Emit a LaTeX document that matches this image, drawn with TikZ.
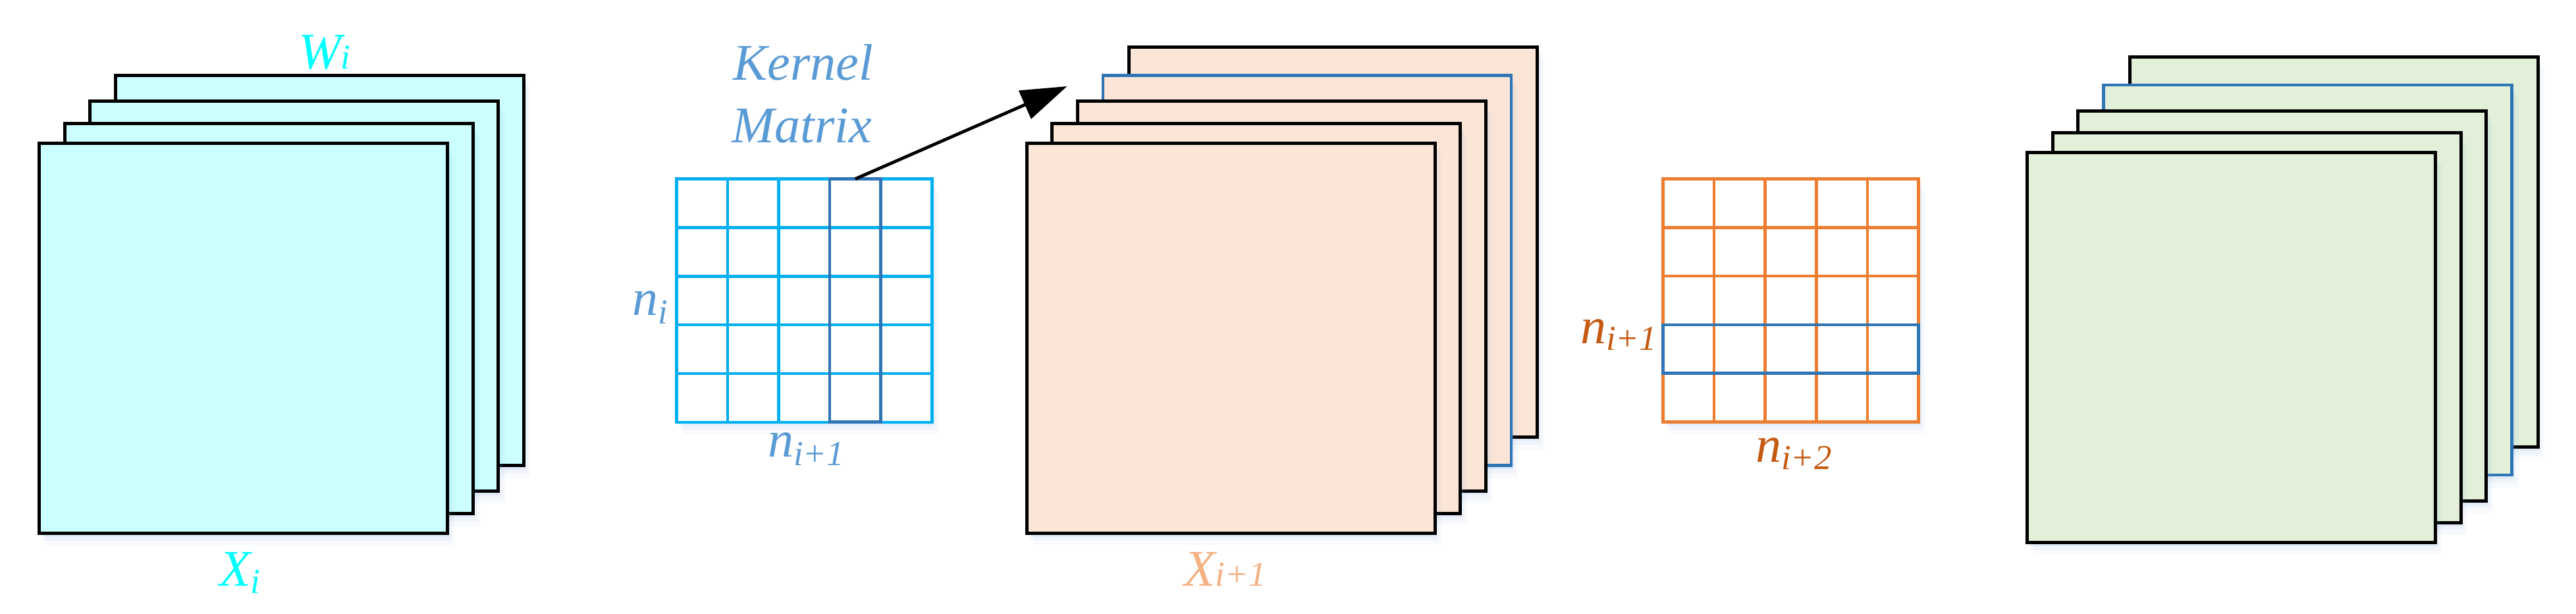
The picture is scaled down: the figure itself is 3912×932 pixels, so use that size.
\documentclass[tikz,border=0pt]{standalone}
\usepackage{fontspec}
\setmainfont{Liberation Serif}
\usetikzlibrary{arrows.meta,shadows,calc}
\definecolor{labcyan}{HTML}{00FFFF}
\definecolor{kblue}{HTML}{5B9BD5}
\definecolor{lorange}{HTML}{F4B183}
\definecolor{dorange}{HTML}{C55A11}
\definecolor{gcyan}{HTML}{00B0F0}
\definecolor{hblue}{HTML}{2E75B6}
\definecolor{gorange}{HTML}{ED7D31}
\definecolor{fcyan}{HTML}{CCFFFF}
\definecolor{fpeach}{HTML}{FBE5D6}
\definecolor{fgreen}{HTML}{E2F0D9}
\definecolor{shc}{HTML}{6F9FD8}
\newcommand{\lsub}[2][3pt]{\raisebox{-#1}{\fontsize{13.25pt}{13.25pt}\selectfont #2}}
\begin{document}
\begin{tikzpicture}[x=0.25pt,y=-0.25pt,
  softshadow/.style={
    drop shadow={shadow xshift=0.8pt,shadow yshift=-1.4pt,fill=shc,opacity=0.10},
    drop shadow={shadow xshift=1.6pt,shadow yshift=-2.8pt,fill=shc,opacity=0.07},
    drop shadow={shadow xshift=2.6pt,shadow yshift=-4.6pt,fill=shc,opacity=0.05}},
  sheet/.style={softshadow, draw=black, line width=1.25pt, minimum width=155pt,
    minimum height=148pt, anchor=north west, inner sep=0pt, outer sep=0pt},
  bsheet/.style={sheet, draw=hblue, line width=1.1pt},
  lab/.style={font=\fontsize{19.5pt}{23.5pt}\selectfont\itshape, inner sep=0pt, outer sep=0pt},
  gridbox/.style={softshadow, fill=white, draw=#1, line width=1.15pt, anchor=north west,
    inner sep=0pt, outer sep=0pt, minimum width=97pt, minimum height=92.3pt},
  gline/.style={draw=#1, line width=1.15pt},
  hilite/.style={draw=hblue, line width=1.2pt, anchor=north west, inner sep=0pt, outer sep=0pt}
]
\useasboundingbox (0,0) rectangle (3912,932);

% ---- left stack (input X_i)
\node[sheet, fill=fcyan] (L4) at (175.6,114.9) {};
\node[sheet, fill=fcyan] (L3) at (136.6,153.9) {};
\node[sheet, fill=fcyan] (L2) at (98.1,187.4) {};
\node[sheet, fill=fcyan] (L1) at (59.6,217.4) {};
\node[lab, text=labcyan, anchor=base west] (Wi) at (453,104) {W\lsub[0pt]{i}};
\node[lab, text=labcyan, anchor=base west] (Xi) at (333,889) {X\lsub[2.75pt]{i}};

% ---- kernel matrix
\node[gridbox=gcyan] (kg) at (1027.2,271.6) {};
\foreach \i in {1,...,4}{
  \draw[gline=gcyan] ($(kg.north west)!{\i/5}!(kg.north east)$) -- ($(kg.south west)!{\i/5}!(kg.south east)$);
  \draw[gline=gcyan] ($(kg.north west)!{\i/5}!(kg.south west)$) -- ($(kg.north east)!{\i/5}!(kg.south east)$);
}
\node[hilite, minimum width=19.4pt, minimum height=92.3pt] (kcol) at ($(kg.north west)!0.6!(kg.north east)$) {};
\node[lab, text=kblue, anchor=base] (k1) at (1220,122) {Kernel};
\node[lab, text=kblue, anchor=base] (k2) at (1218,216) {Matrix};
\node[lab, text=kblue, anchor=base west] (ni) at (960,478.3) {n\lsub[3.3pt]{i}};
\node[lab, text=kblue, anchor=base west] (nia) at (1166,693) {n\lsub[3.25pt]{i+1}};

% ---- middle stack (X_{i+1})
\node[sheet, fill=fpeach] (M5) at (1714.5,71.7) {};
\node[bsheet, fill=fpeach] (M4) at (1675,114.5) {};
\node[sheet, fill=fpeach] (M3) at (1636,153.5) {};
\node[sheet, fill=fpeach] (M2) at (1597.5,187) {};
\node[sheet, fill=fpeach] (M1) at (1559,217) {};
\node[lab, text=lorange, anchor=base west] (Xia) at (1798,889) {X\lsub[0pt]{i+1}};

% ---- arrow
\coordinate (atip) at (1620.5,131);
\draw[-{Triangle[length=17.5pt,width=11.5pt]}, line width=1.2pt] (kcol.north) -- (atip);

% ---- right matrix
\node[gridbox=gorange] (rg) at (2525.5,271.5) {};
\foreach \i in {1,...,4}{
  \draw[gline=gorange] ($(rg.north west)!{\i/5}!(rg.north east)$) -- ($(rg.south west)!{\i/5}!(rg.south east)$);
  \draw[gline=gorange] ($(rg.north west)!{\i/5}!(rg.south west)$) -- ($(rg.north east)!{\i/5}!(rg.south east)$);
}
\node[hilite, minimum width=97pt, minimum height=18.46pt] (rrow) at ($(rg.north west)!0.6!(rg.south west)$) {};
\node[lab, text=dorange, anchor=base west] (rna) at (2400,521.7) {n\lsub[2.5pt]{i+1}};
\node[lab, text=dorange, anchor=base west] (rnb) at (2666,701) {n\lsub[2.9pt]{i+2}};

% ---- right stack
\node[sheet, fill=fgreen] (R5) at (3234,86.3) {};
\node[bsheet, fill=fgreen] (R4) at (3194.5,129.1) {};
\node[sheet, fill=fgreen] (R3) at (3155.5,168.1) {};
\node[sheet, fill=fgreen] (R2) at (3117,201.6) {};
\node[sheet, fill=fgreen] (R1) at (3078.5,231.6) {};
\end{tikzpicture}
\end{document}
